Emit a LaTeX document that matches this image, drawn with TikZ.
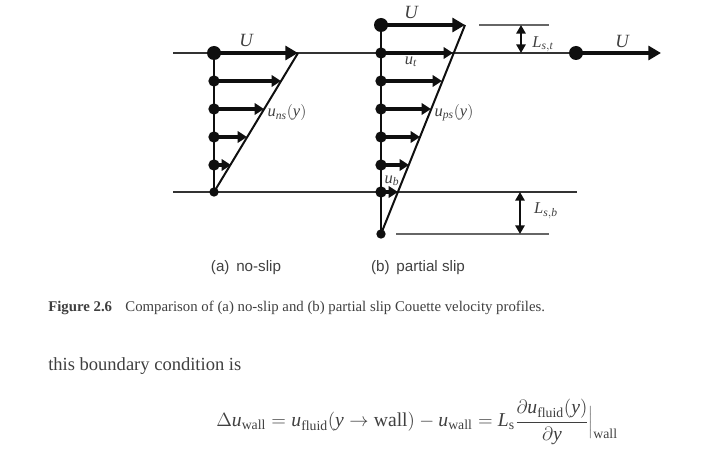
\documentclass[tikz,border=0pt]{standalone}
\usepackage{fontspec}
\setmainfont{Liberation Serif}
\newfontfamily\labelsans{Liberation Sans}
\usetikzlibrary{arrows.meta}
\definecolor{inkc}{gray}{0.06}
\definecolor{txtc}{gray}{0.25}
\tikzset{
  x=0.75pt,y=-0.75pt,
  wall/.style={line width=1.1pt,draw=inkc!85!white},
  gap/.style={line width=1.1pt,draw=gray!80!black},
  axis/.style={line width=1.3pt,draw=inkc},
  slant/.style={line width=1.5pt,draw=inkc},
  dotsmall/.style={circle,fill=inkc,inner sep=0pt,minimum size=8.5pt},
  dottiny/.style={circle,fill=inkc,inner sep=0pt,minimum size=7pt},
  dotbig/.style={circle,fill=inkc,inner sep=0pt,minimum size=10.5pt},
  vel/.style={line width=2.3pt,draw=inkc,-{Triangle[length=7pt,width=8.5pt]}},
  velbig/.style={line width=3pt,draw=inkc,-{Triangle[length=9.5pt,width=10.5pt]}},
  dim/.style={line width=1.4pt,draw=inkc,{Triangle[length=6.5pt,width=7pt]}-{Triangle[length=6.5pt,width=7pt]}},
  lab/.style={text=txtc,inner sep=0pt,font=\fontsize{12.4}{14}\selectfont},
  ulab/.style={text=txtc,inner sep=0pt,font=\itshape\fontsize{14}{16}\selectfont},
  sublab/.style={text=txtc,inner sep=0pt,font=\labelsans\fontsize{11.4}{13}\selectfont},
  body/.style={text=inkc!80!white,inner sep=0pt,anchor=west},
}
\begin{document}
\begin{tikzpicture}
\useasboundingbox (0,0) rectangle (701,456);
% walls
\coordinate (topL) at (173,53); \coordinate (topR) at (570,53);
\coordinate (botL) at (173,192); \coordinate (botR) at (577,192);
\draw[wall] (topL) -- (topR);
\draw[wall] (botL) -- (botR);
% (a) no-slip
\node[dotbig] (a0) at (214,53) {};
\node[dotsmall] (a1) at (214,81) {};
\node[dotsmall] (a2) at (214,109) {};
\node[dotsmall] (a3) at (214,137) {};
\node[dotsmall] (a4) at (214,165) {};
\node[dottiny] (a5) at (214,192) {};
\coordinate (ae0) at (298,53); \coordinate (ae1) at (281,81); \coordinate (ae2) at (264,109);
\coordinate (ae3) at (247,137); \coordinate (ae4) at (231,165);
\draw[axis] (a0.center) -- (a5.center);
\draw[slant] (a5.center) -- (ae0);
\draw[velbig] (a0.center) -- (ae0);
\foreach \i in {1,2,3,4} \draw[vel] (a\i.center) -- (ae\i);
% (b) partial slip
\node[dotbig] (b0) at (381,25) {};
\node[dotsmall] (b1) at (381,53) {};
\node[dotsmall] (b2) at (381,81) {};
\node[dotsmall] (b3) at (381,109) {};
\node[dotsmall] (b4) at (381,137) {};
\node[dotsmall] (b5) at (381,165) {};
\node[dotsmall] (b6) at (381,192) {};
\node[dottiny] (b7) at (381,234) {};
\coordinate (be0) at (465,25); \coordinate (be1) at (453,53); \coordinate (be2) at (442,81);
\coordinate (be3) at (431,109); \coordinate (be4) at (420,137); \coordinate (be5) at (409,165); \coordinate (be6) at (398,192);
\draw[axis] (b0.center) -- (b7.center);
\draw[slant] (b7.center) -- (be0);
\draw[velbig] (b0.center) -- (be0);
\foreach \i in {1,2,3,4,5,6} \draw[vel] (b\i.center) -- (be\i);
% slip lengths
\coordinate (st1) at (479,25); \coordinate (st2) at (549,25);
\coordinate (sb1) at (396,234); \coordinate (sb2) at (549,234);
\draw[gap] (st1) -- (st2);
\draw[gap] (sb1) -- (sb2);
\coordinate (dt1) at (521,25); \coordinate (dt2) at (521,53);
\coordinate (db1) at (520,192); \coordinate (db2) at (520,234);
\draw[dim] (dt1) -- (dt2);
\draw[dim] (db1) -- (db2);
% moving wall arrow
\node[dotbig] (c0) at (576,53) {};
\coordinate (c1) at (661,53);
\draw[velbig] (c0.center) -- (c1);
% labels
\node[ulab] (lu1) at (246,40) {U};
\node[ulab] (lu2) at (411,12) {U};
\node[ulab] (lu3) at (622,41) {U};
\node[lab] (lns) at (287,113) {$\mathit{u}_{\mathit{ns}}(\mathit{y})$};
\node[lab] (lps) at (454,113) {$\mathit{u}_{\mathit{ps}}(\mathit{y})$};
\node[lab] (lt) at (411,62) {$\mathit{u}_{\mathit{t}}$};
\node[lab] (lb) at (392,181) {$\mathit{u}_{\mathit{b}}$};
\node[lab] (lst) at (543,44) {$\mathit{L}_{\mathit{s,t}}$};
\node[lab] (lsb) at (546,211) {$\mathit{L}_{\mathit{s,b}}$};
\node[sublab] (capa) at (246,268) {(a)\, no-slip};
\node[sublab] (capb) at (418,268) {(b)\, partial slip};
% caption and text
\node[body,font=\fontsize{11.1}{13}\selectfont] (fig) at (48,308) {\textbf{Figure 2.6}\hspace{0.9em}Comparison of (a) no-slip and (b) partial slip Couette velocity profiles.};
\node[body,font=\fontsize{13.9}{16}\selectfont] (para) at (48,366) {this boundary condition is};
\node[body,font=\fontsize{14.75}{17}\selectfont] (eq) at (216,422) {$\displaystyle\Delta\mathit{u}_{\mathrm{wall}}=\mathit{u}_{\mathrm{fluid}}(\mathit{y}\rightarrow\mathrm{wall})-\mathit{u}_{\mathrm{wall}}=\mathit{L}_{\mathrm{s}}\frac{\partial\mathit{u}_{\mathrm{fluid}}(\mathit{y})}{\partial\mathit{y}}\bigg|_{\mathrm{wall}}$};
\end{tikzpicture}
\end{document}
